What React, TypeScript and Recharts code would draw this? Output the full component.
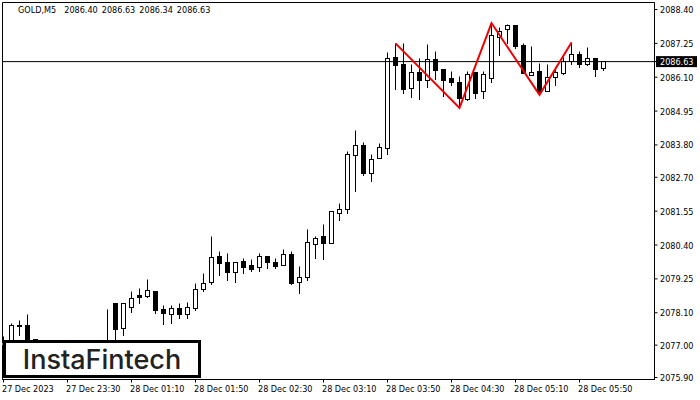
import React from "react";
import { ComposedChart, Bar, Line, XAxis, YAxis, ReferenceLine, ReferenceArea } from "recharts";

const opens = [2077.0,2076.95,2077.67,2077.67,2077.19,2076.9,2076.7,2076.6,2076.5,2076.7,2076.5,2076.6,2076.8,2076.7,2078.41,2077.56,2078.28,2078.69,2078.65,2078.82,2078.21,2078.04,2078.24,2078.04,2078.24,2078.88,2079.13,2080.01,2079.81,2079.47,2079.84,2079.70,2079.64,2080.01,2079.81,2079.70,2080.08,2079.13,2079.30,2080.42,2080.69,2080.45,2081.47,2081.61,2083.44,2083.78,2082.83,2083.34,2083.68,2086.77,2086.53,2085.72,2086.26,2085.99,2086.70,2086.36,2086.06,2085.92,2085.34,2086.26,2085.61,2086.06,2087.45,2087.72,2087.86,2087.18,2086.16,2086.29,2085.61,2086.09,2086.23,2086.63,2086.87,2086.53,2086.74,2086.40];
const highs = [2077.29,2077.73,2077.84,2078.04,2077.19,2077.0,2076.9,2076.8,2076.8,2076.9,2076.8,2076.9,2077.0,2078.21,2078.41,2078.41,2078.82,2078.92,2079.23,2078.82,2078.35,2078.35,2078.41,2078.45,2079.09,2079.43,2080.69,2080.18,2080.11,2079.81,2079.94,2079.91,2080.11,2080.01,2079.94,2080.25,2080.18,2079.67,2080.93,2080.69,2081.10,2081.54,2081.81,2083.58,2084.29,2083.88,2083.47,2083.85,2086.94,2087.25,2087.25,2086.53,2086.74,2087.21,2086.97,2086.36,2086.29,2086.12,2086.29,2086.26,2086.29,2087.96,2087.79,2087.89,2087.86,2087.25,2087.14,2086.57,2086.53,2086.43,2086.77,2087.28,2086.97,2087.11,2086.74,2086.63];
const lows = [2076.8,2076.85,2077.33,2076.8,2076.7,2076.5,2076.4,2076.3,2076.3,2076.4,2076.3,2076.4,2076.6,2076.5,2077.16,2077.33,2078.11,2078.41,2078.62,2078.07,2077.70,2077.73,2077.90,2077.90,2078.18,2078.82,2079.06,2079.37,2079.19,2079.13,2079.43,2079.50,2079.50,2079.60,2079.60,2079.70,2079.06,2078.75,2079.19,2079.94,2079.91,2080.45,2081.23,2081.47,2082.22,2082.76,2082.56,2083.34,2083.47,2085.68,2085.55,2085.41,2085.34,2085.75,2086.02,2085.44,2085.82,2085.07,2085.31,2085.38,2085.38,2085.92,2086.84,2087.25,2087.08,2086.23,2086.16,2085.48,2085.61,2085.82,2086.19,2086.53,2086.43,2086.50,2086.12,2086.34];
const closes = [2077.1,2077.67,2077.66,2076.95,2076.9,2076.7,2076.6,2076.5,2076.7,2076.5,2076.6,2076.8,2076.7,2077.0,2077.53,2078.41,2078.58,2078.62,2078.85,2078.18,2078.07,2078.24,2078.04,2078.28,2078.88,2079.09,2079.98,2079.77,2079.47,2079.81,2079.64,2079.57,2080.01,2079.81,2079.67,2080.08,2079.09,2079.30,2080.49,2080.62,2080.45,2081.54,2081.61,2083.47,2083.78,2082.83,2083.30,2083.71,2086.74,2086.50,2085.68,2086.26,2085.99,2086.70,2086.33,2085.99,2085.92,2085.38,2086.19,2085.55,2086.19,2087.52,2087.65,2087.86,2087.14,2086.23,2086.26,2085.58,2086.09,2086.26,2086.63,2086.87,2086.53,2086.74,2086.36,2086.63];

const patternIndex = [49, 57, 61, 67, 71];
const patternValues = [2087.25, 2085.06, 2087.94, 2085.5, 2087.28];

const yTicks = [2088.40, 2087.25, 2086.63, 2086.10, 2084.95, 2083.80, 2082.70, 2081.55, 2080.40, 2079.25, 2078.10, 2077.00, 2075.90];
const xTickIndex = [0, 8, 16, 24, 32, 40, 48, 56, 64, 72];
const xTickLabels = ["27 Dec 2023", "27 Dec 23:30", "28 Dec 01:10", "28 Dec 01:50", "28 Dec 02:30", "28 Dec 03:10", "28 Dec 03:50", "28 Dec 04:30", "28 Dec 05:10", "28 Dec 05:50"];

const currentPrice = 2086.63;
const header = "GOLD,M5  2086.40 2086.63 2086.34 2086.63";
const yDomain = [2075.832, 2088.638];
const xDomain = [-0.125, 81.375];

const rows = opens.map((open, i) => {
  const p = patternIndex.indexOf(i);
  return {
    i,
    open,
    high: highs[i],
    low: lows[i],
    close: closes[i],
    range: [lows[i], highs[i]],
    pattern: p >= 0 ? patternValues[p] : null,
  };
});

const FONT = "'DejaVu Sans Condensed', 'DejaVu Sans', sans-serif";
const snap = (v: number) => Math.floor(v) + 0.5;

function Candle(props: any) {
  const { x, y, width, height, payload } = props;
  const k = height / (payload.high - payload.low);
  const cx = snap(x + width / 2);
  const yOpen = y + (payload.high - payload.open) * k;
  const yClose = y + (payload.high - payload.close) * k;
  const top = snap(Math.min(yOpen, yClose));
  const bottom = snap(Math.max(yOpen, yClose));
  const bull = payload.close >= payload.open;
  return (
    <g>
      <line x1={cx} x2={cx} y1={snap(y)} y2={snap(y + height) + 0.5} stroke="#000" strokeWidth={1} />
      <rect x={cx - 2} y={top} width={4} height={Math.max(bottom - top, 1)} fill={bull ? "#fff" : "#000"} stroke="#000" strokeWidth={1} />
    </g>
  );
}

function YTick(props: any) {
  const { x, y, payload } = props;
  const isCurrent = payload.value === currentPrice;
  return (
    <g>
      {isCurrent ? <rect x={656} y={y - 5.5} width={41} height={11} fill="#000" /> : null}
      <text x={660} y={y + 3.5} fontFamily={FONT} fontSize={9} fill={isCurrent ? "#fff" : "#000"}>
        {payload.value.toFixed(2)}
      </text>
    </g>
  );
}

function XTick(props: any) {
  const { x, payload } = props;
  const label = xTickLabels[xTickIndex.indexOf(payload.value)];
  return (
    <text x={x - 1.5} y={392} fontFamily={FONT} fontSize={9} fill="#000">
      {label}
    </text>
  );
}

export default function App() {
  return (
    <div style={{ position: "absolute", left: 0, top: 0, width: 700, height: 400, background: "#fff", overflow: "hidden" }}>
      <ComposedChart width={700} height={400} data={rows} margin={{ top: 2.5, right: 0, bottom: 0, left: 2.5 }}>
        <XAxis
          dataKey="i"
          type="number"
          domain={xDomain}
          allowDataOverflow
          ticks={xTickIndex}
          interval={0}
          height={20.5}
          tick={XTick}
          tickSize={3}
          tickLine={{ stroke: "#000" }}
          axisLine={{ stroke: "#000" }}
        />
        <YAxis
          orientation="right"
          type="number"
          domain={yDomain}
          allowDataOverflow
          ticks={yTicks}
          interval={0}
          width={45.5}
          tick={YTick}
          tickSize={3}
          tickLine={{ stroke: "#000" }}
          axisLine={{ stroke: "#000" }}
        />
        <ReferenceArea x1={xDomain[0]} x2={xDomain[1]} y1={yDomain[0]} y2={yDomain[1]} fill="none" stroke="#000" strokeWidth={1} fillOpacity={0} />
        <Bar dataKey="range" barSize={5} shape={Candle} isAnimationActive={false} />
        <ReferenceLine y={currentPrice} stroke="#000" strokeWidth={1} />
        <Line dataKey="pattern" connectNulls stroke="#f00000" strokeWidth={2} dot={false} activeDot={false} isAnimationActive={false} />
      </ComposedChart>
      <div style={{ position: "absolute", left: 18, top: 4, fontFamily: FONT, fontSize: 9, wordSpacing: 1.5, lineHeight: "12px", color: "#000", whiteSpace: "pre" }}>
        {header}
      </div>
      <div
        style={{
          position: "absolute",
          left: 3,
          top: 340,
          width: 198,
          height: 38,
          boxSizing: "border-box",
          border: "3px solid #000",
          background: "#fff",
          color: "#222",
          fontFamily: "Inter, sans-serif",
          fontWeight: 500,
          fontSize: 27,
          lineHeight: "33px",
          textAlign: "center",
          whiteSpace: "pre",
        }}
      >
        InstaFintech
      </div>
    </div>
  );
}
